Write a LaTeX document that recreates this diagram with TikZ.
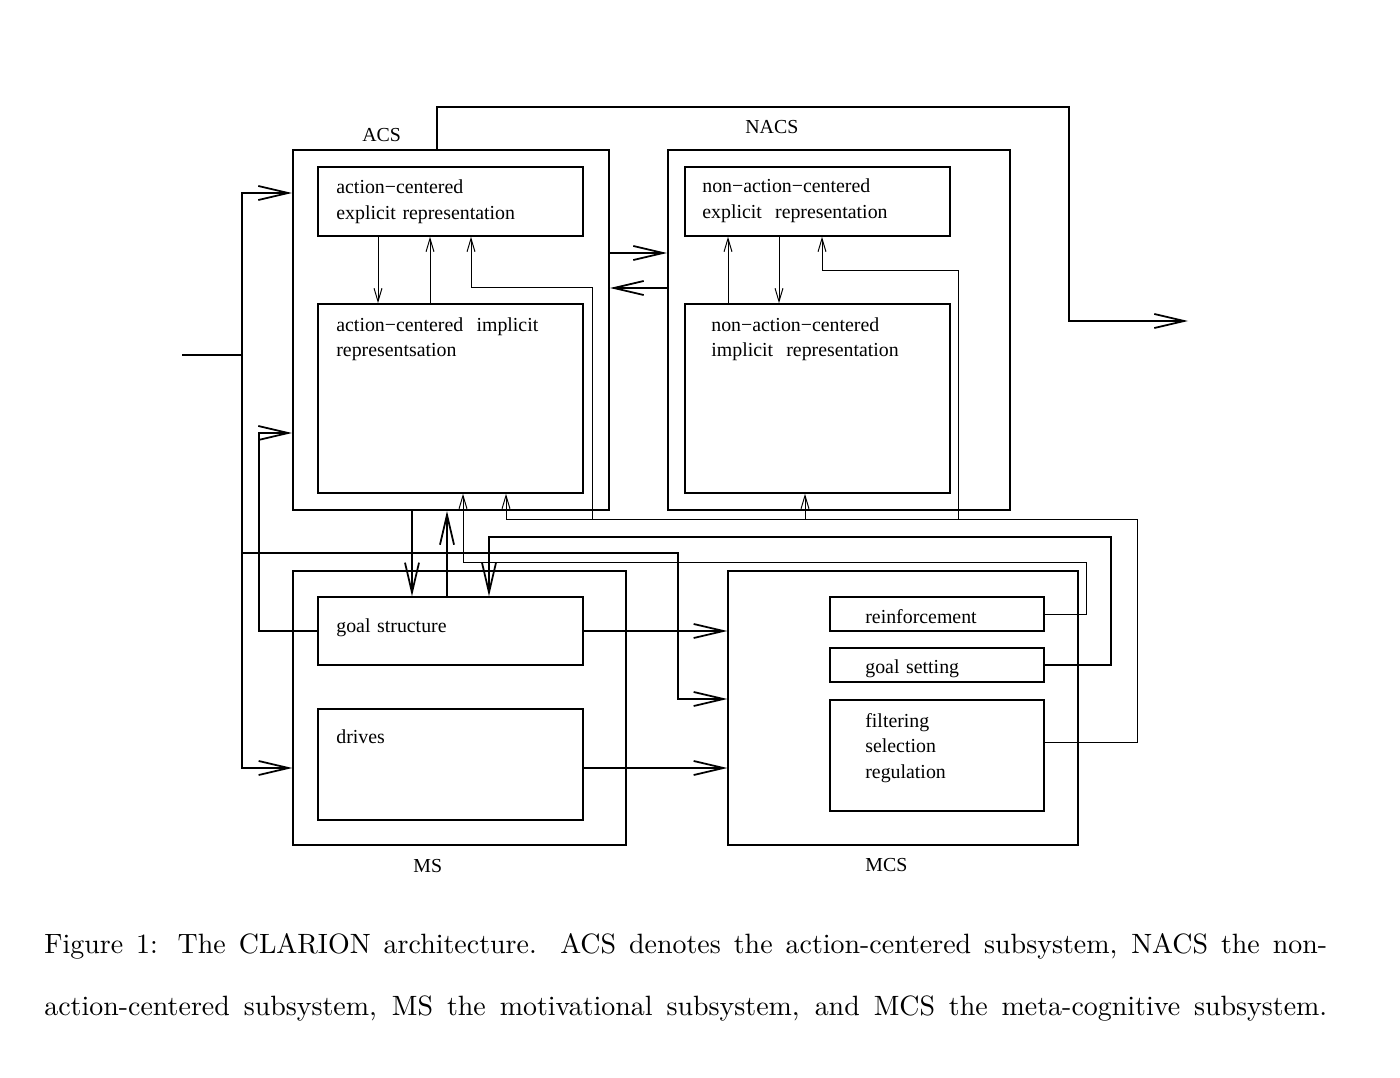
\documentclass[tikz,border=0pt]{standalone}
\usepackage{fontspec}
\newfontfamily\timesfont{Liberation Serif}
\usetikzlibrary{arrows.meta,fit}

\begin{document}
\begin{tikzpicture}[%
  x=0.02cm, y=-0.02cm,
  sub/.style  = {draw, line width=1.15pt, inner sep=0pt},
  subt/.style = {draw, line width=0.75pt, inner sep=0pt},
  part/.style = {draw, line width=0.95pt, inner sep=0pt},
  partt/.style = {draw, line width=0.75pt, inner sep=0pt},
  txt/.style  = {anchor=base west, inner sep=0pt, text width=6cm, align=left,
                 font=\timesfont\fontsize{11.3}{14.6}\selectfont},
  lbl/.style  = {anchor=base west, inner sep=0pt,
                 font=\timesfont\fontsize{11.3}{14.6}\selectfont},
  captxt/.style = {anchor=base west, inner sep=0pt,
                 font=\fontsize{10}{12}\selectfont},
  big/.style  = {line width=1pt, -{Straight Barb[length=17pt,width=8pt]}},
  small/.style = {line width=0.55pt, -{Straight Barb[length=7.5pt,width=4.5pt]}},
  wire/.style = {line width=1pt},
]
  \useasboundingbox (0,0) rectangle (1400,1078);

  % subsystems
  \node[sub, fit={(293,150) (609,510)}] (acs) {};
  \node[sub, fit={(668,150) (1010,510)}] (nacs) {};
  \node[subt, fit={(293,571) (626,845)}] (ms) {};
  \node[subt, fit={(728,571) (1078,845)}] (mcs) {};

  \node[lbl] (acslbl) at (362,142) {ACS};
  \node[lbl] (nacslbl) at (745,133) {NACS};
  \node[lbl] (mslbl) at (413,872) {MS};
  \node[lbl] (mcslbl) at (865,871) {MCS};

  % parts
  \node[part, fit={(318,167) (583,236)}] (acsE) {};
  \node[part, fit={(318,304) (583,493)}] (acsI) {};
  \node[part, fit={(685,167) (950,236)}] (nacsE) {};
  \node[part, fit={(685,304) (950,493)}] (nacsI) {};
  \node[partt, fit={(318,597) (583,665)}] (goal) {};
  \node[partt, fit={(318,709) (583,820)}] (drives) {};
  \node[partt, fit={(830,597) (1044,631)}] (reinf) {};
  \node[partt, fit={(830,648) (1044,682)}] (gset) {};
  \node[partt, fit={(830,700) (1044,811)}] (filt) {};

  \node[txt] (acsEtxt) at (336,194) {action−centered\\explicit representation};
  \node[txt] (acsItxt) at (336,331) {action−centered~ implicit\\representsation};
  \node[txt] (nacsEtxt) at (702,193) {non−action−centered\\explicit~ representation};
  \node[txt] (nacsItxt) at (711,331) {non−action−centered\\implicit~ representation};
  \node[txt] (goaltxt) at (336,632) {goal structure};
  \node[txt] (drivestxt) at (336,743) {drives};
  \node[txt] (reinftxt) at (865,623) {reinforcement};
  \node[txt] (gsettxt) at (865,673) {goal setting};
  \node[txt] (filttxt) at (865,727) {filtering\\selection\\regulation};

  % input and output
  \coordinate (in) at (182,355);
  \coordinate (jin) at (242,355);
  \coordinate (out) at (1188,321);
  \draw[wire] (in) -- (jin);
  \draw[big] (jin) |- (acs.west |- 0,193);
  \draw[big] (jin) |- (ms.west |- 0,768);
  \draw[big] (jin |- 0,553) -| (678,699) -- (mcs.west |- 0,699);
  \draw[big] (acs.north -| 437,0) |- (1069,107) |- (out);

  % between subsystems
  \draw[big] (goal.west) -| (259,433) -- (acs.west |- 0,433);
  \draw[big] (acs.east |- 0,253) -- (nacs.west |- 0,253);
  \draw[big] (nacs.west |- 0,288) -- (acs.east |- 0,288);
  \draw[big] (acs.south -| 412,0) -- (goal.north -| 412,0);
  \draw[big] (goal.north -| 447,0) -- (acs.south -| 447,0);
  \draw[big] (goal.east) -- (mcs.west |- goal.east);
  \draw[big] (drives.east |- 0,768) -- (mcs.west |- 0,768);
  \draw[big] (gset.east) -| (1111,537) -| (goal.north -| 489,0);

  % inside ACS and NACS
  \draw[small] (acsE.south -| 378,0) -- (acsI.north -| 378,0);
  \draw[small] (acsI.north -| 430,0) -- (acsE.south -| 430,0);
  \draw[small] (nacsI.north -| 728,0) -- (nacsE.south -| 728,0);
  \draw[small] (nacsE.south -| 779,0) -- (nacsI.north -| 779,0);

  % meta-cognitive feedback
  \draw[small] (reinf.east) -| (1086,562) -| (acsI.south -| 463,0);
  \draw[small] (filt.east |- 0,742) -| (1137,519) -| (acsI.south -| 506,0);
  \draw[small] (805,519) -- (nacsI.south -| 805,0);
  \draw[small] (592,519) |- (471,287) -- (acsE.south -| 471,0);
  \draw[small] (958,519) |- (822,270) -- (nacsE.south -| 822,0);

  % caption
  \node[captxt] (cap1) at (44,953) {\scalebox{1.59}{\makebox[16.14cm][s]{Figure 1: The CLARION architecture. ACS denotes the action-centered subsystem, NACS the non-}}};
  \node[captxt] (cap2) at (44,1015) {\scalebox{1.59}{\makebox[16.14cm][s]{action-centered subsystem, MS the motivational subsystem, and MCS the meta-cognitive subsystem.}}};
\end{tikzpicture}
\end{document}
